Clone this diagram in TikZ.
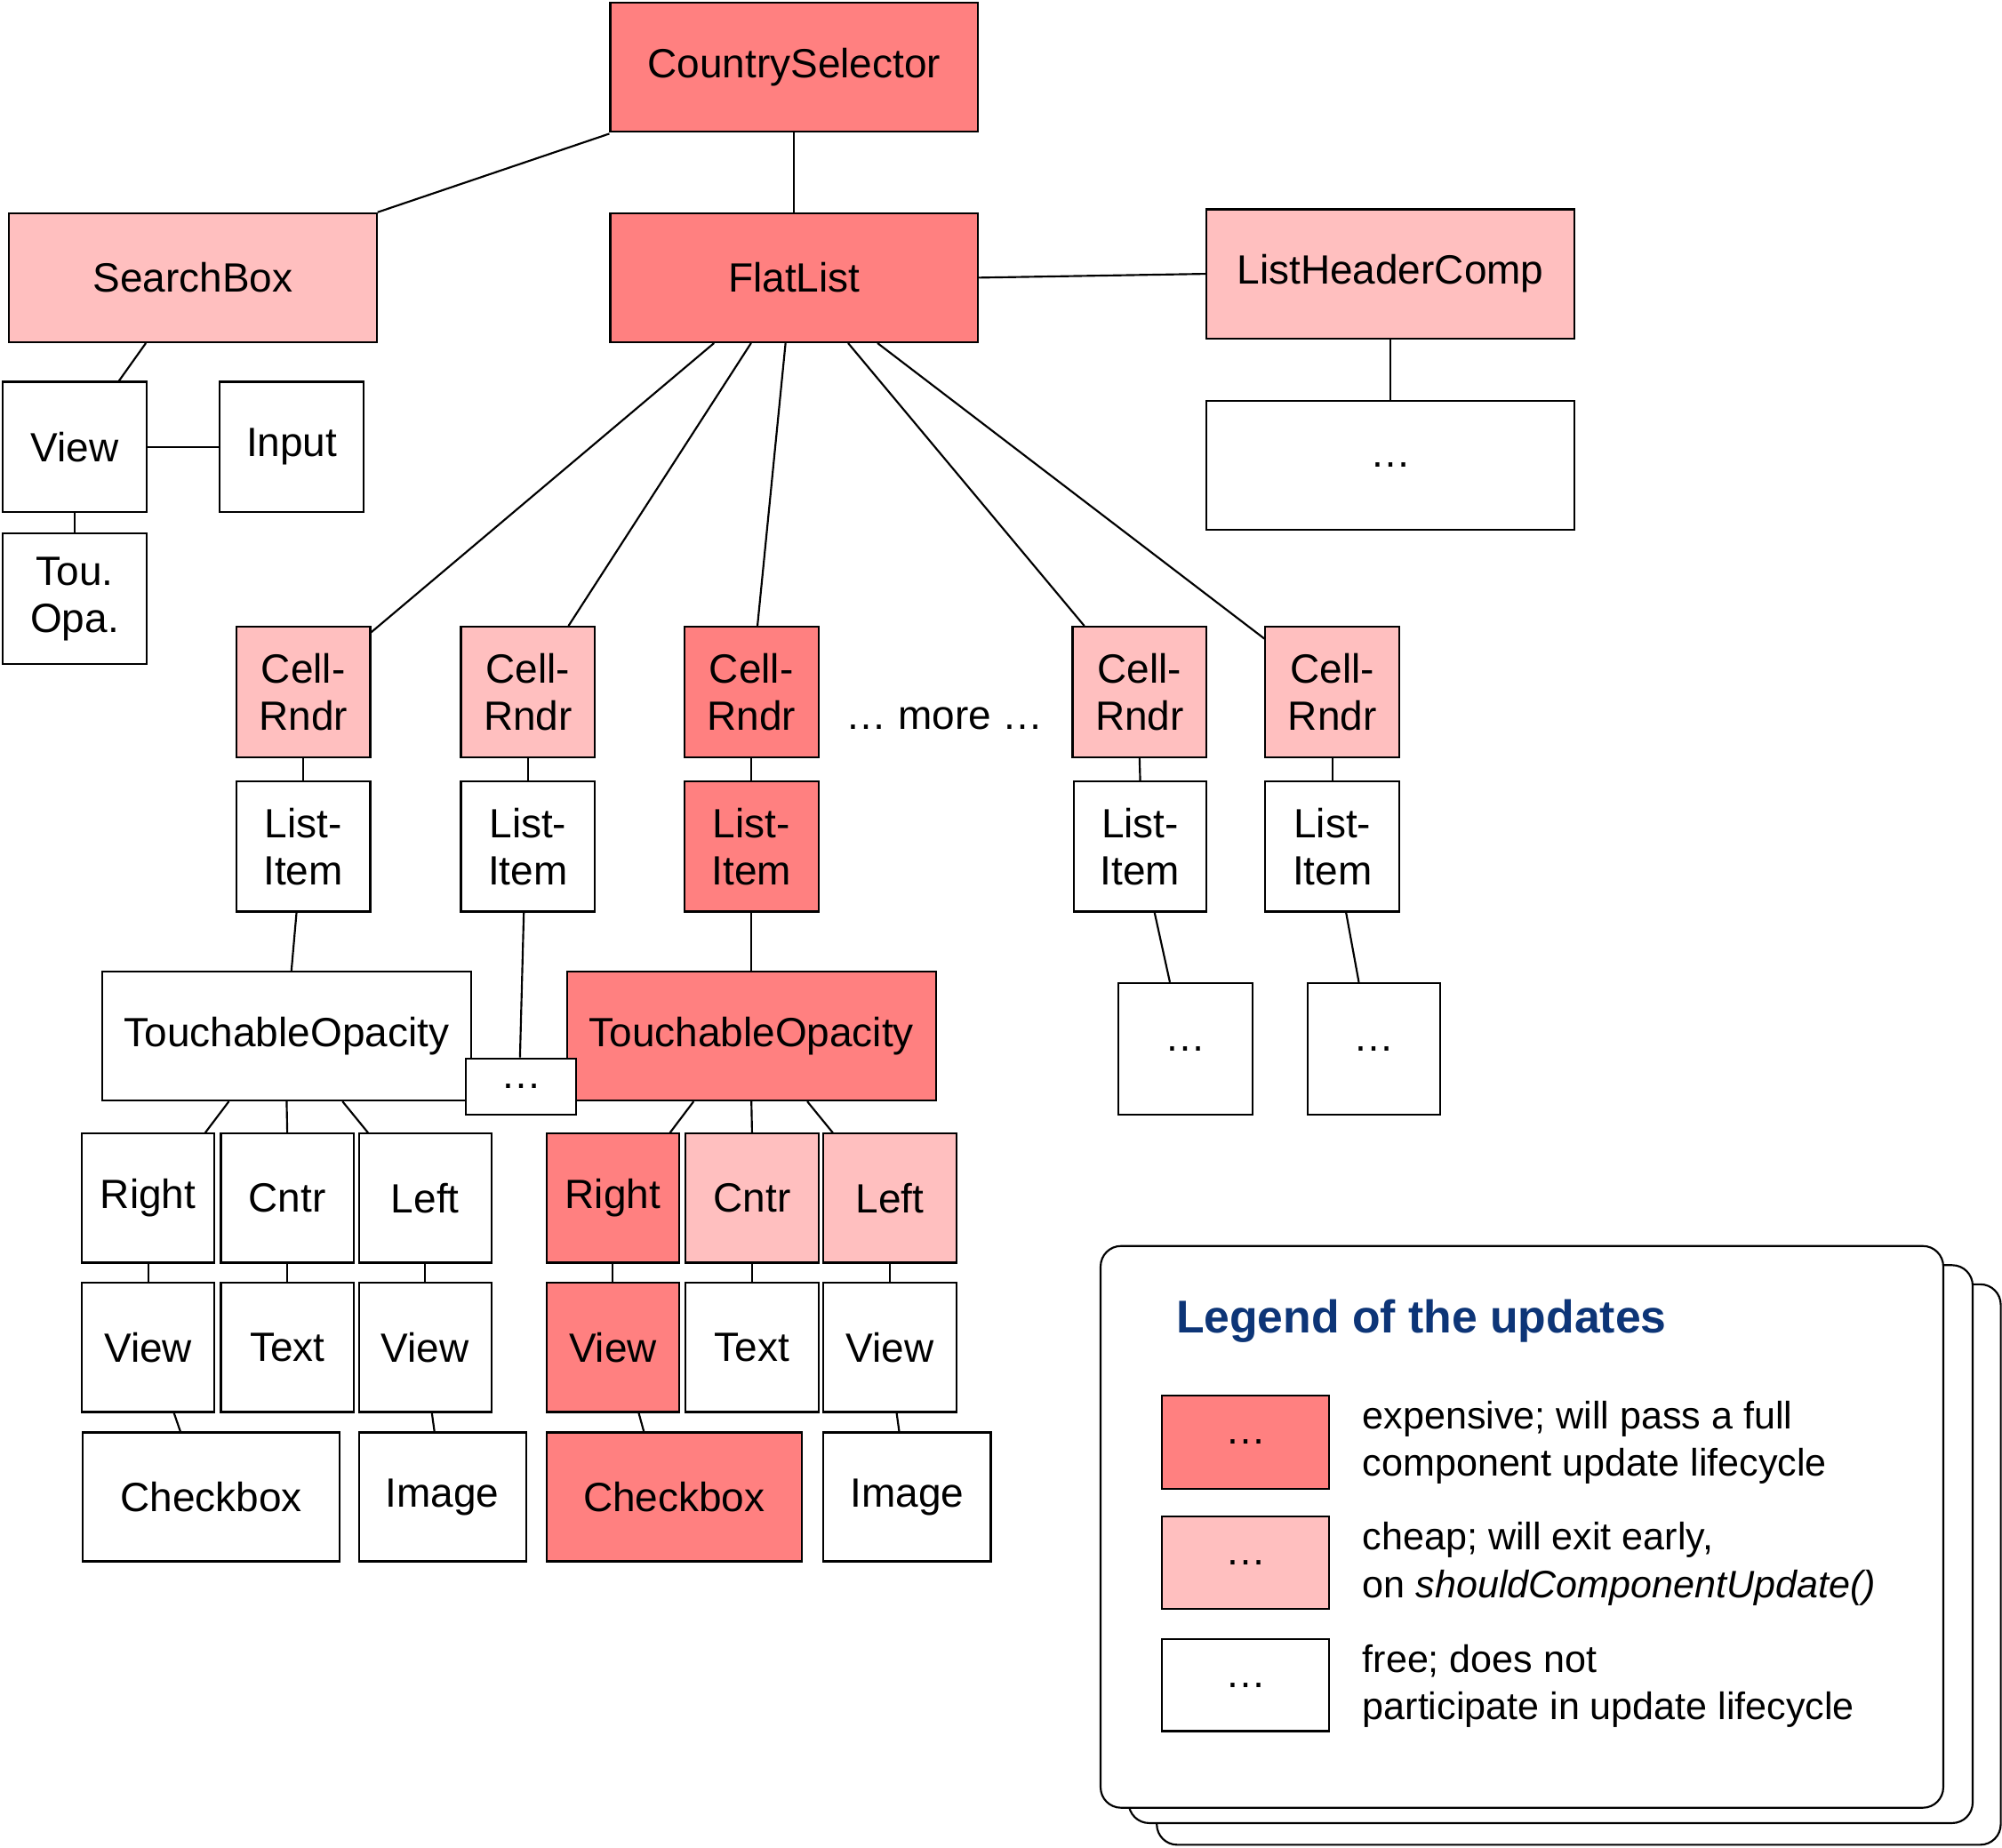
\documentclass[tikz,border=0pt]{standalone}
\usepackage{fontspec}
\setmainfont{Liberation Sans}
\usetikzlibrary{backgrounds}
\definecolor{dk}{HTML}{FF8080}
\definecolor{lt}{HTML}{FFBFBF}
\definecolor{lg}{HTML}{0D3577}
\tikzset{
 box/.style={draw=black,line width=1.5pt,inner sep=0pt,align=center,font=\fontsize{32}{37}\selectfont},
 w/.style={box,fill=white}, d/.style={box,fill=dk}, l/.style={box,fill=lt},
 edge/.style={line width=1.5pt},
 leg/.style={draw=black,line width=1.5pt,fill=white,rounded corners=16pt},
 lt/.style={anchor=west,align=left,inner sep=0pt,font=\fontsize{30}{37}\selectfont}
}
\newcommand\bx[7]{\node[#6,minimum width={(#4)-(#2)},minimum height={(#5)-(#3)}] (#1) at ({((#2)+(#4))/2},{((#3)+(#5))/2}) {#7};}
\begin{document}
\begin{tikzpicture}[x=1pt,y=-1pt]
\useasboundingbox (0,0) rectangle (1568,1447);
\bx{cs}{478}{2}{766}{103}{d}{CountrySelector}
\bx{sb}{7}{167}{295}{268}{l}{SearchBox}
\bx{fl}{478}{167}{766}{268}{d}{FlatList}
\bx{lh}{945}{164}{1233}{265}{l}{ListHeaderComp}
\bx{ld}{945}{314}{1233}{415}{w}{…}
\bx{v}{2}{299}{115}{401}{w}{View}
\bx{in}{172}{299}{285}{401}{w}{Input}
\bx{tou}{2}{418}{115}{520}{w}{Tou.\\Opa.}
\bx{c1}{185}{491}{290}{593}{l}{Cell-\\Rndr}
\bx{c2}{361}{491}{466}{593}{l}{Cell-\\Rndr}
\bx{c3}{536}{491}{641}{593}{d}{Cell-\\Rndr}
\node[font=\fontsize{32}{37}\selectfont] (more) at (740,563) {… more …};
\bx{c4}{840}{491}{945}{593}{l}{Cell-\\Rndr}
\bx{c5}{991}{491}{1096}{593}{l}{Cell-\\Rndr}
\bx{l1}{185}{612}{290}{714}{w}{List-\\Item}
\bx{l2}{361}{612}{466}{714}{w}{List-\\Item}
\bx{l3}{536}{612}{641}{714}{d}{List-\\Item}
\bx{l4}{841}{612}{945}{714}{w}{List-\\Item}
\bx{l5}{991}{612}{1096}{714}{w}{List-\\Item}
\bx{t1}{80}{761}{369}{862}{w}{TouchableOpacity}
\bx{t2}{444}{761}{733}{862}{d}{TouchableOpacity}
\bx{dm}{365}{829}{451}{873}{w}{…}
\bx{d4}{876}{770}{981}{873}{w}{…}
\bx{d5}{1024}{770}{1128}{873}{w}{…}
\bx{r1}{64}{888}{168}{989}{w}{Right}
\bx{n1}{173}{888}{277}{989}{w}{Cntr}
\bx{f1}{281}{888}{385}{989}{w}{Left}
\bx{r2}{428}{888}{532}{989}{d}{Right}
\bx{n2}{537}{888}{641}{989}{l}{Cntr}
\bx{f2}{645}{888}{749}{989}{l}{Left}
\bx{va1}{64}{1005}{168}{1106}{w}{View}
\bx{x1}{173}{1005}{277}{1106}{w}{Text}
\bx{vb1}{281}{1005}{385}{1106}{w}{View}
\bx{va2}{428}{1005}{532}{1106}{d}{View}
\bx{x2}{537}{1005}{641}{1106}{w}{Text}
\bx{vb2}{645}{1005}{749}{1106}{w}{View}
\bx{cb1}{65}{1122}{266}{1223}{w}{Checkbox}
\bx{im1}{281}{1122}{412}{1223}{w}{Image}
\bx{cb2}{428}{1122}{628}{1223}{d}{Checkbox}
\bx{im2}{645}{1122}{776}{1223}{w}{Image}
\begin{scope}[on background layer]
\draw[edge] ([yshift=-1pt]cs.south west) -- (sb.north east);
\draw[edge] (cs.south) -- (fl.north);
\draw[edge] (fl.east) -- (lh.west);
\draw[edge] ([xshift=108pt]sb.south west) -- ([xshift=92pt]v.north west);
\draw[edge] (v.east) -- (in.west);
\draw[edge] (v.south) -- (tou.north);
\draw[edge] ([xshift=82pt]fl.south west) -- ([yshift=-5pt]c1.north east);
\draw[edge] ([xshift=111pt]fl.south west) -- ([xshift=85pt]c2.north west);
\draw[edge] ([xshift=138pt]fl.south west) -- ([xshift=58pt]c3.north west);
\draw[edge] ([xshift=187pt]fl.south west) -- ([xshift=10pt]c4.north west);
\draw[edge] ([xshift=210pt]fl.south west) -- ([yshift=-10pt]c5.north west);
\draw[edge] (lh.south) -- (ld.north);
\foreach \i in {1,...,5}{\draw[edge] (c\i.south) -- (l\i.north);}
\draw[edge] ([xshift=48pt]l1.south west) -- ([xshift=149pt]t1.north west);
\draw[edge] ([xshift=50pt]l2.south west) -- ([xshift=43pt]dm.north west);
\draw[edge] (l3.south) -- (t2.north);
\draw[edge] ([xshift=64pt]l4.south west) -- ([xshift=41pt]d4.north west);
\draw[edge] ([xshift=64pt]l5.south west) -- ([xshift=41pt]d5.north west);
\foreach \i in {1,2}{
 \draw[edge] ([xshift=100pt]t\i.south west) -- ([xshift=-8pt]r\i.north east);
 \draw[edge] (t\i.south) -- (n\i.north);
 \draw[edge] ([xshift=189pt]t\i.south west) -- ([xshift=8pt]f\i.north west);
 \draw[edge] (r\i.south) -- (va\i.north);
 \draw[edge] (n\i.south) -- (x\i.north);
 \draw[edge] (f\i.south) -- (vb\i.north);
 \draw[edge] ([xshift=73pt]va\i.south west) -- ([xshift=77pt]cb\i.north west);
 \draw[edge] ([xshift=58pt]vb\i.south west) -- ([xshift=60pt]im\i.north west);
}
\end{scope}
% legend
\draw[leg] (906,1006) rectangle (1567,1445);
\draw[leg] (884,991) rectangle (1545,1428);
\draw[leg] (862,976) rectangle (1522,1416);
\node[anchor=west,inner sep=0pt,text=lg,font=\fontsize{36}{40}\selectfont\bfseries] (lgt) at (921,1035) {Legend of the updates};
\bx{s1}{910}{1093}{1041}{1166}{d}{…}
\bx{s2}{910}{1188}{1041}{1260}{l}{…}
\bx{s3}{910}{1284}{1041}{1356}{w}{…}
\node[lt] (e1) at (1067,1130) {expensive; will pass a full\\component update lifecycle};
\node[lt] (e2) at (1067,1225) {cheap; will exit early,\\on \textit{shouldComponentUpdate()}};
\node[lt] (e3) at (1067,1321) {free; does not\\participate in update lifecycle};
\end{tikzpicture}
\end{document}
